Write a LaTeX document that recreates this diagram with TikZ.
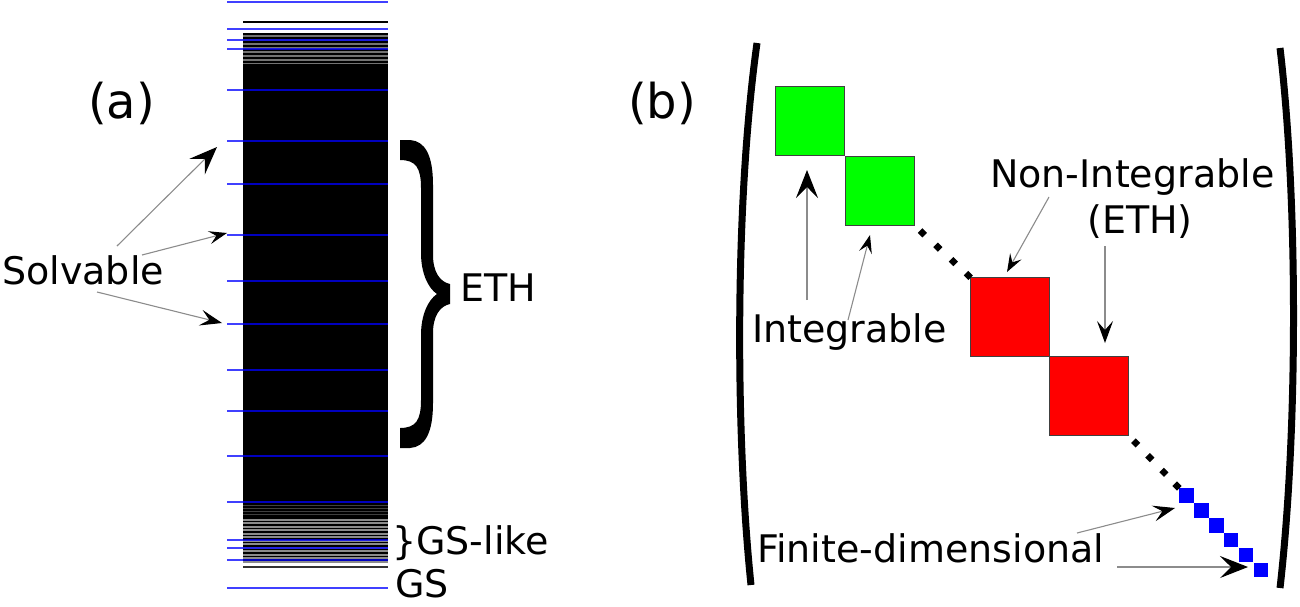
\documentclass[tikz,border=0pt]{standalone}
\usepackage{fontspec}
\setmainfont{DejaVu Sans}
\usetikzlibrary{arrows.meta,calc}
\begin{document}
\begin{tikzpicture}[x=1pt,y=-1pt,
 lbl/.style={inner sep=0pt, anchor=base west, font=\fontsize{38}{46}\selectfont},
 paneltag/.style={inner sep=0pt, anchor=base west, font=\fontsize{48}{56}\selectfont},
 ptr/.style={draw=black!45, line width=1.1pt},
 tipL/.style={-{Stealth[length=28pt,width=22pt,inset=11pt,color=black]}},
 tipM/.style={-{Stealth[length=22pt,width=16pt,inset=9pt,color=black]}},
 tipS/.style={-{Stealth[length=18pt,width=13pt,inset=7pt,color=black]}},
 bluelvl/.style={draw=blue, draw opacity=0.75, line width=2pt},
 blk/.style={draw=black!75, line width=0.8pt, inner sep=0pt, anchor=north west},
 ddot/.style={fill=black, rotate=45, minimum size=6.5pt, inner sep=0pt},
 paren/.style={line width=7pt},
]
\useasboundingbox (0,0) rectangle (1300,606);

% ---------------- panel (a) ----------------
\node[paneltag] (la) at (88,118) {(a)};
% spectrum
\draw[line width=1.5pt] (243,22) -- (388,22);
\fill[black!55] (243,33) rectangle (388,65);
\foreach \y in {34,38,...,64} \draw[line width=2pt] (243,\y) -- (388,\y);
\fill (243,64) rectangle (388,503);
\fill[black!75] (243,503) rectangle (388,517);
\foreach \y in {504,507,...,516} \draw[line width=1.8pt] (243,\y) -- (388,\y);
\fill[black!45] (243,517) rectangle (388,563);
\foreach \y in {518,521.5,...,562} \draw[line width=1.6pt] (243,\y) -- (388,\y);
\draw[line width=1.5pt, black!80] (243,567) -- (388,567);
\foreach \y in {2,29,40,49,90,141,184,235,281,324,370,411,456,502,540,548,560,588}
  \draw[bluelvl] (227,\y) -- (388,\y);

% ETH brace
\fill (400,140) -- (410,140) .. controls (425,141) and (433,155) .. (433,185)
  -- (433,255) .. controls (433,272) and (440,282) .. (450,284) -- (450,304)
  .. controls (440,306) and (433,316) .. (433,333) -- (433,403)
  .. controls (433,433) and (425,447) .. (410,448) -- (400,448) -- (400,428)
  .. controls (416,428) and (421,420) .. (421,400) -- (421,335)
  .. controls (421,315) and (428,300) .. (437,294)
  .. controls (428,288) and (421,273) .. (421,253) -- (421,188)
  .. controls (421,168) and (416,160) .. (400,160) -- cycle;

\node[lbl] (solv) at (2,284) {Solvable};
\node[lbl] (etha) at (460,301) {ETH};
\node[lbl] (gslike) at (392,554) {\}GS-like};
\node[lbl] (gs) at (395,597) {GS};

\coordinate (sa1) at (117,246); \coordinate (sa1e) at (217,147);
\coordinate (sa2) at (142,255); \coordinate (sa2e) at (227,233);
\coordinate (sa3) at (97,292);  \coordinate (sa3e) at (222,323);
\draw[ptr,tipL] (sa1) -- (sa1e);
\draw[ptr,tipS] (sa2) -- (sa2e);
\draw[ptr,tipM] (sa3) -- (sa3e);

% ---------------- panel (b) ----------------
\node[paneltag] (lb) at (628,118) {(b)};
\draw[paren] (757,43) .. controls (735,200) and (735,430) .. (751,585);
\draw[paren] (1280,48) .. controls (1298,200) and (1298,430) .. (1280,588);

\node[blk, fill={rgb,255:red,0;green,255;blue,0}, minimum size=69pt] (g1) at (775,86) {};
\node[blk, fill={rgb,255:red,0;green,255;blue,0}, minimum size=69pt] (g2) at (g1.south east) {};
\node[blk, fill=red, minimum size=78.5pt] (r1) at (970,277) {};
\node[blk, fill=red, minimum size=78.5pt] (r2) at (r1.south east) {};
\node[inner sep=0pt, anchor=north west, fill=blue, minimum size=14.5pt] (b1) at (1179,488) {};
\foreach \i [count=\j from 2] in {1,...,5}
  \node[inner sep=0pt, anchor=north west, fill=blue, minimum size=14.5pt] (b\j) at (b\i.south east) {};

\foreach \t in {0.14,0.42,0.70,0.97}
  \node[ddot] at ($(g2.south east)!\t!(r1.north west)$) {};
\foreach \t in {0.14,0.42,0.70,0.96}
  \node[ddot] at ($(r2.south east)!\t!(b1.north west)$) {};

\node[lbl] (integ) at (752,342) {Integrable};
\node[lbl] (nonint) at (990,187) {Non-Integrable};
\node[lbl] (ethb) at (1087,233) {(ETH)};
\node[lbl] (finite) at (757,562) {Finite-dimensional};

\coordinate (ia1) at (807,300); \coordinate (ia1e) at (807,170);
\coordinate (ia2) at (848,320); \coordinate (ia2e) at (870,235);
\coordinate (na) at (1049,197); \coordinate (nae) at (1007,272);
\coordinate (ea) at (1105,246); \coordinate (eae) at (1105,343);
\coordinate (fa1) at (1077,533); \coordinate (fa1e) at (1175,508);
\coordinate (fa2) at (1117,567); \coordinate (fa2e) at (1248,567);
\draw[ptr,tipL] (ia1) -- (ia1e);
\draw[ptr,tipS] (ia2) -- (ia2e);
\draw[ptr,tipS] (na) -- (nae);
\draw[ptr,tipM] (ea) -- (eae);
\draw[ptr,tipM] (fa1) -- (fa1e);
\draw[ptr,tipL] (fa2) -- (fa2e);
\end{tikzpicture}
\end{document}
